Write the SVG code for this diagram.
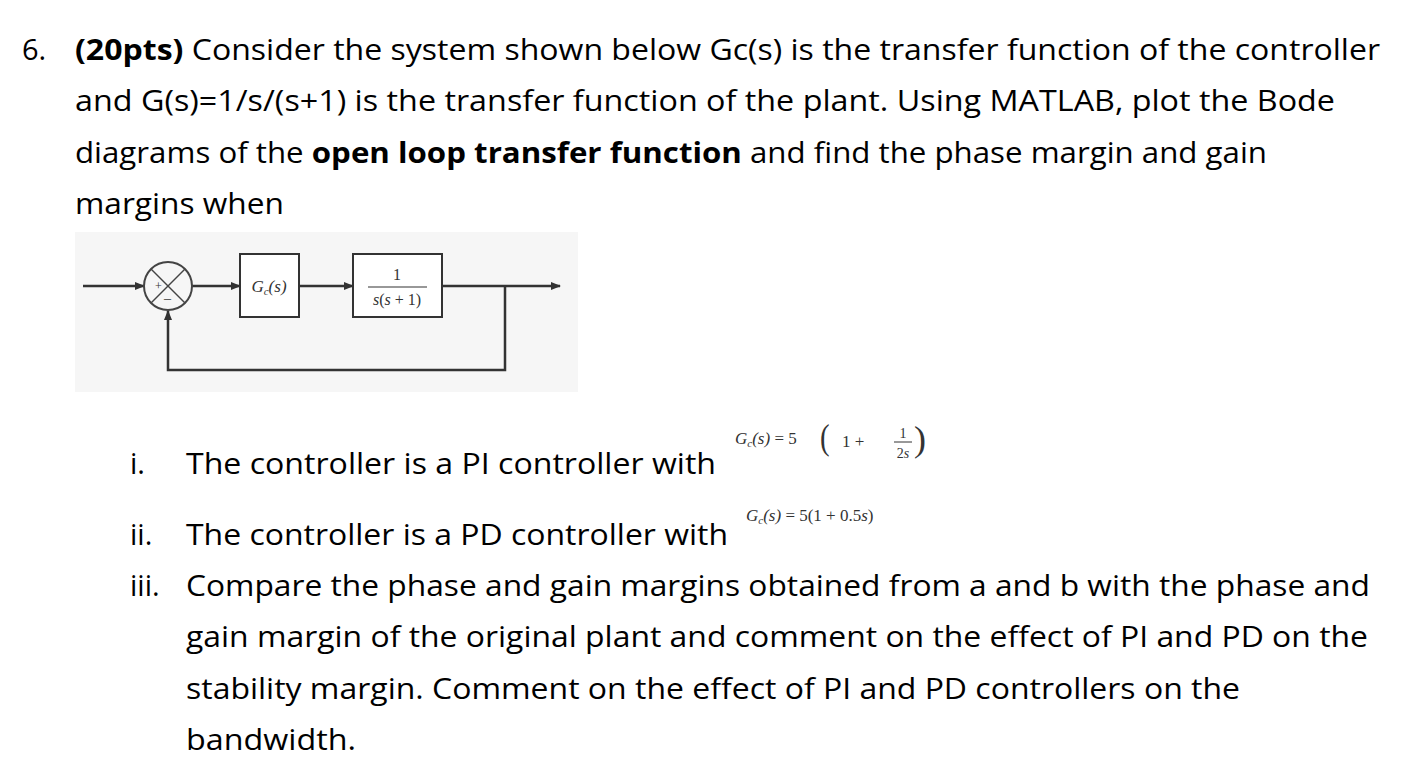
<svg xmlns="http://www.w3.org/2000/svg" width="1410" height="778" viewBox="0 0 1410 778">
<style>
.t{font-family:"Open Sans","Liberation Sans",sans-serif;font-size:29px;fill:#000}
.b{font-weight:bold}
.m{font-family:"Liberation Serif",serif;fill:#333;font-style:italic}
.r{font-family:"Liberation Serif",serif;fill:#333}
.ln{stroke:#333;stroke-width:2.5;fill:none}
</style>
<defs><marker id="a" markerWidth="10" markerHeight="8" refX="9" refY="4" orient="auto" markerUnits="userSpaceOnUse"><path d="M0,0 L10,4 L0,8 Z" fill="#333"/></marker></defs>
<rect width="1410" height="778" fill="#fff"/>
<text class="t" x="22" y="60">6.</text>
<text class="t" x="75" y="60" textLength="1305" lengthAdjust="spacingAndGlyphs"><tspan class="b">(20pts)</tspan> Consider the system shown below Gc(s) is the transfer function of the controller</text>
<text class="t" x="75" y="111" textLength="1260" lengthAdjust="spacingAndGlyphs">and G(s)=1/s/(s+1) is the transfer function of the plant. Using MATLAB, plot the Bode</text>
<text class="t" x="75" y="163" textLength="1192" lengthAdjust="spacingAndGlyphs">diagrams of the <tspan class="b">open loop transfer function</tspan> and find the phase margin and gain</text>
<text class="t" x="75" y="214" textLength="209" lengthAdjust="spacingAndGlyphs">margins when</text>
<rect x="75" y="232" width="503" height="160" fill="#f6f6f6"/>
<g id="connectors">
<line class="ln" x1="83" y1="286" x2="144" y2="286" marker-end="url(#a)"/>
<line class="ln" x1="192" y1="286" x2="240" y2="286" marker-end="url(#a)"/>
<line class="ln" x1="299" y1="286" x2="353" y2="286" marker-end="url(#a)"/>
<line class="ln" x1="442" y1="286" x2="560" y2="286" marker-end="url(#a)"/>
<polyline class="ln" points="505,286 505,370 168,370 168,311" marker-end="url(#a)"/>
</g>
<g id="sum">
<circle cx="168" cy="286" r="24" fill="none" stroke="#444" stroke-width="2"/>
<line x1="151" y1="269" x2="185" y2="303" stroke="#444" stroke-width="1.5"/>
<line x1="185" y1="269" x2="151" y2="303" stroke="#444" stroke-width="1.5"/>
<text class="r" x="155" y="290" font-size="12">+</text>
<text class="r" x="164" y="303" font-size="14">–</text>
</g>
<g id="gc"><rect x="240" y="254" width="59" height="63" fill="#fff" stroke="#333" stroke-width="2"/>
<text class="m" x="269" y="292" font-size="17" text-anchor="middle">G<tspan font-size="11" dy="3">c</tspan><tspan dy="-3">(s)</tspan></text></g>
<g id="plant"><rect x="353" y="254" width="89" height="63" fill="#fff" stroke="#333" stroke-width="2"/>
<text class="r" x="397" y="280" font-size="16" text-anchor="middle">1</text>
<line x1="368" y1="287" x2="427" y2="287" stroke="#333" stroke-width="1.2"/>
<text class="r" x="397" y="305" font-size="16" text-anchor="middle"><tspan font-style="italic">s</tspan>(<tspan font-style="italic">s</tspan> + 1)</text></g>
<text class="t" x="130" y="474">i.</text>
<text class="t" x="186" y="474" textLength="530" lengthAdjust="spacingAndGlyphs">The controller is a PI controller with</text>
<g id="f1">
<text class="m" x="735" y="444" font-size="17">G<tspan font-size="11" dy="3">c</tspan><tspan dy="-3">(s)</tspan><tspan font-style="normal"> = 5</tspan></text>
<text class="r" x="820" y="449" font-size="36" transform="scale(0.8,1) translate(205,0)">(</text>
<text class="r" x="842" y="447" font-size="17">1 +</text>
<text class="r" x="903" y="438" font-size="14" text-anchor="middle">1</text>
<line x1="894" y1="442" x2="912" y2="442" stroke="#333" stroke-width="1"/>
<text class="r" x="903" y="458" font-size="14" text-anchor="middle">2<tspan font-style="italic">s</tspan></text>
<text class="r" x="914" y="451" font-size="36">)</text>
</g>
<text class="t" x="130" y="545">ii.</text>
<text class="t" x="186" y="545" textLength="542" lengthAdjust="spacingAndGlyphs">The controller is a PD controller with</text>
<g id="f2"><text class="m" x="746" y="521" font-size="17">G<tspan font-size="11" dy="3">c</tspan><tspan dy="-3">(s)</tspan><tspan font-style="normal"> = 5(1 + 0.5</tspan>s<tspan font-style="normal">)</tspan></text></g>
<text class="t" x="130" y="596">iii.</text>
<text class="t" x="186" y="596" textLength="1184" lengthAdjust="spacingAndGlyphs">Compare the phase and gain margins obtained from a and b with the phase and</text>
<text class="t" x="186" y="647" textLength="1182" lengthAdjust="spacingAndGlyphs">gain margin of the original plant and comment on the effect of PI and PD on the</text>
<text class="t" x="186" y="699" textLength="1054" lengthAdjust="spacingAndGlyphs">stability margin. Comment on the effect of PI and PD controllers on the</text>
<text class="t" x="186" y="750" textLength="170" lengthAdjust="spacingAndGlyphs">bandwidth.</text>
</svg>
